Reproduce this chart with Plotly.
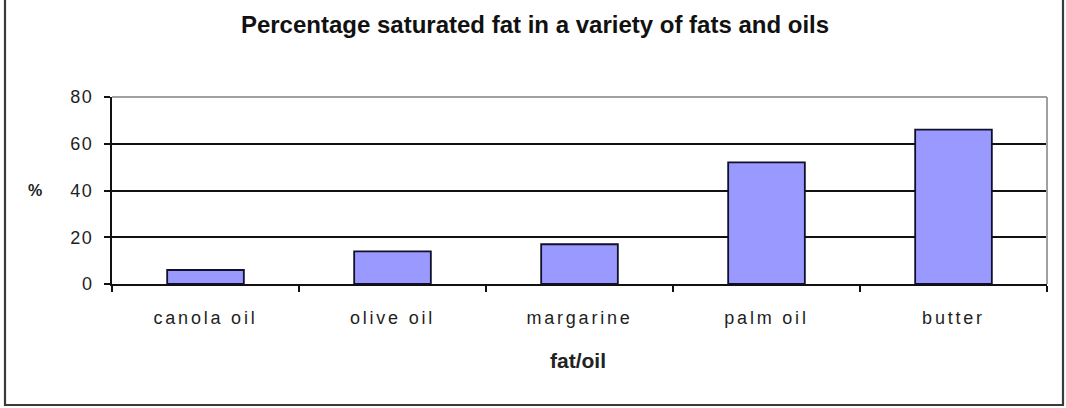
import plotly.graph_objects as go

categories = ["canola oil", "olive oil", "margarine", "palm oil", "butter"]
sat_fat_pct = [6, 14, 17, 52, 66]
y_ticks = [0, 20, 40, 60, 80]

W, H = 1066, 408
L, R, T, B = 112, 1047, 97, 284
PW, PH = R - L, B - T

def px(x):
    return (x - L) / PW

def py(y):
    return (B - y) / PH

FONT = "Liberation Sans, Arial, sans-serif"

ticktext = ['<span style="letter-spacing:2.8px">%s</span>' % c for c in categories]
yticktext = ['<span style="letter-spacing:1.5px">%d</span>' % v for v in y_ticks]

fig = go.Figure(go.Bar(
    x=categories, y=sat_fat_pct,
    marker=dict(color="#9999FF", line=dict(color="#10102a", width=1.8)),
    width=0.41,
))

fig.update_layout(
    width=W, height=H,
    margin=dict(l=L, r=W - R, t=T, b=H - B, pad=0),
    paper_bgcolor="white", plot_bgcolor="white",
    showlegend=False,
    title=dict(text="<b>Percentage saturated fat in a variety of fats and oils</b>",
               x=535 / W, xref="container", xanchor="center",
               y=1 - 25 / H, yref="container", yanchor="middle",
               font=dict(family=FONT, size=24, color="#111111")),
    font=dict(family=FONT, color="#222222"),
)

fig.update_xaxes(
    type="category",
    tickmode="array", tickvals=categories, ticktext=ticktext,
    tickson="boundaries", ticks="outside", ticklen=6, tickwidth=2, tickcolor="#111111",
    showline=True, linecolor="#111111", linewidth=2,
    showgrid=False, ticklabelstandoff=16,
    tickfont=dict(family=FONT, size=18, color="#1e1e1e"),
)
fig.update_yaxes(
    range=[0, 80], tickmode="array", tickvals=y_ticks, ticktext=yticktext,
    ticks="outside", ticklen=6, tickwidth=2, tickcolor="#111111",
    showline=True, linecolor="#111111", linewidth=2,
    showgrid=True, gridcolor="#111111", gridwidth=1.6, zeroline=False,
    ticklabelstandoff=7,
    tickfont=dict(family=FONT, size=18, color="#1e1e1e"),
)

fig.add_shape(type="line", xref="paper", yref="paper", x0=0, x1=1, y0=1, y1=1,
              line=dict(color="#a0a0a0", width=2), layer="above")
fig.add_shape(type="line", xref="paper", yref="paper", x0=1, x1=1, y0=0, y1=1,
              line=dict(color="#a0a0a0", width=2), layer="above")
fig.add_shape(type="rect", xref="paper", yref="paper",
              x0=px(5), x1=px(1063), y0=py(405), y1=py(-10),
              line=dict(color="#3a3a3a", width=2.2), layer="below")

fig.add_annotation(text="<b>%</b>", xref="paper", yref="paper", x=px(35), y=py(190),
                   showarrow=False, xanchor="center", yanchor="middle",
                   font=dict(family=FONT, size=16, color="#222222"))
fig.add_annotation(text="<b>fat/oil</b>", xref="paper", yref="paper", x=px(578), y=py(360),
                   showarrow=False, xanchor="center", yanchor="middle",
                   font=dict(family=FONT, size=21, color="#222222"))

fig.write_html("out.html", config={"displayModeBar": False},
               post_script="document.body.style.margin='0';document.body.style.overflow='hidden';")
